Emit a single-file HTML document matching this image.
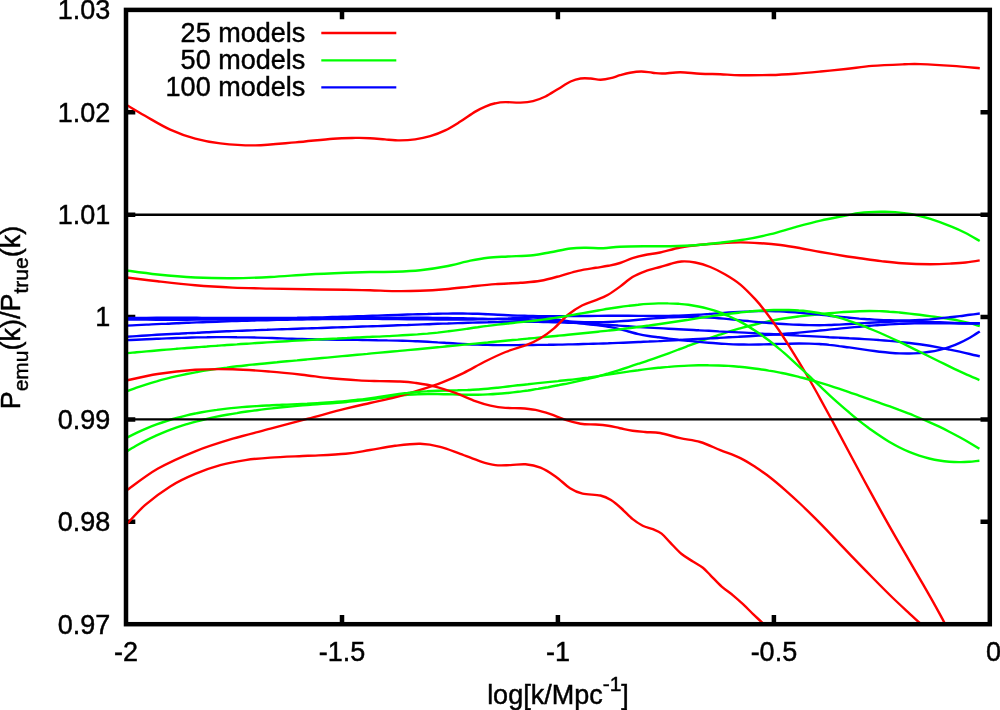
<!DOCTYPE html>
<html lang="en"><head><meta charset="utf-8"><title>Pemu(k)/Ptrue(k)</title>
<style>
html,body{margin:0;padding:0;background:#fff;}
body{width:1000px;height:710px;overflow:hidden;}
svg{display:block;}
text{font-family:"Liberation Sans",sans-serif;fill:#000;stroke:#000;stroke-width:0.45px;}
.c{fill:none;stroke-width:2.4;stroke-linecap:butt;stroke-linejoin:round;}
.r{stroke:#ff0000;}.g{stroke:#00ff00;}.b{stroke:#0000ff;}
.k{stroke:#000;fill:none;}
</style></head><body>
<svg width="1000" height="710" viewBox="0 0 1000 710">
<rect x="0" y="0" width="1000" height="710" fill="#fff"/>
<defs><clipPath id="pa"><rect x="126" y="9.9" width="863.8" height="614.3"/></clipPath></defs>
<path class="k" stroke-width="4.5" d="M342 624.2V614.9M342 9.9V19.2M557.9 624.2V614.9M557.9 9.9V19.2M773.9 624.2V614.9M773.9 9.9V19.2M126 521.8H135.3M989.8 521.8H980.5M126 419.4H135.3M989.8 419.4H980.5M126 317H135.3M989.8 317H980.5M126 214.7H135.3M989.8 214.7H980.5M126 112.3H135.3M989.8 112.3H980.5"/>
<g clip-path="url(#pa)">
<path class="c r" d="M126.5 277.5C131.7 278.1 146.2 280 157.6 281.3C169 282.6 182.7 284.2 195.2 285.3C207.7 286.4 220.2 287.1 232.8 287.6C245.4 288.2 258 288.3 270.5 288.6C283 288.9 295.5 289.1 308 289.3C320.5 289.5 335.4 289.6 345.7 289.8C356 290 361.8 290.1 370 290.3C378.2 290.5 386.6 291 395 291.1C403.4 291.2 411.8 291.1 420.2 290.8C428.6 290.5 436.8 290 445.2 289.3C453.6 288.6 461.9 287.5 470.3 286.6C478.7 285.7 487 284.7 495.4 284.1C503.8 283.5 513 283.4 520.5 282.8C528 282.2 533.8 282 540.5 280.8C547.2 279.6 554.3 277.5 560.6 275.8C566.9 274.1 572.2 272.1 578.1 270.8C584 269.5 590.7 268.6 595.7 267.8C600.7 267 604.2 266.6 608.2 265.8C612.2 265 616 264.3 620 263C624 261.7 628.3 259.5 632.5 258.2C636.7 256.9 640.4 255.9 645 255C649.6 254.1 654.2 253.8 660.1 252.5C666 251.2 673.5 248.8 680.2 247.5C686.9 246.2 693.5 245.4 700.2 244.7C706.9 244 713.6 243.6 720.3 243.2C727 242.8 733.7 242.4 740.4 242.4C747.1 242.4 753.7 242.8 760.4 243.2C767.1 243.6 773.8 244.2 780.5 245C787.2 245.8 793.8 247 800.5 248.2C807.2 249.4 813.1 250.7 820.6 252C828.1 253.3 839.1 255.1 845.7 256.2C852.3 257.2 854.1 257.5 860 258.3C865.9 259.1 874 260.3 881 261.1C888 261.9 894.1 262.7 902.3 263.2C910.5 263.7 922.2 264.1 930.4 264.2C938.6 264.2 945.6 263.8 951.5 263.5C957.4 263.2 960.9 263 965.6 262.5C970.3 262 977.4 260.8 979.7 260.4"/>
<path class="c g" d="M126.5 451.5C128.2 450.5 133.2 447.4 136.5 445.5C139.9 443.6 143.2 441.8 146.6 440.1C149.9 438.4 153.3 436.9 156.6 435.4C160 433.9 163.3 432.5 166.7 431.1C170 429.8 173.3 428.6 176.7 427.4C180 426.3 183.4 425.2 186.7 424.2C190.1 423.2 193.4 422.2 196.8 421.4C200.1 420.5 203.5 419.7 206.8 418.9C210.2 418.1 213.5 417.4 216.8 416.7C220.2 416 223.5 415.4 226.9 414.8C230.2 414.2 233.6 413.6 236.9 413.1C240.3 412.5 243.6 412 247 411.5C250.3 411.1 253.7 410.6 257 410.2C260.4 409.7 263.7 409.3 267 408.9C270.4 408.5 273.7 408.2 277.1 407.8C280.4 407.5 283.8 407.1 287.1 406.8C290.5 406.5 293.8 406.2 297.2 405.9C300.5 405.6 303.9 405.3 307.2 405.1C310.5 404.8 313.9 404.5 317.2 404.3C320.6 404 323.9 403.8 327.3 403.5C330.6 403.3 334 403 337.3 402.7C340.7 402.5 344 402.2 347.4 401.9C350.7 401.6 354 401.2 357.4 400.9C360.7 400.5 364.1 400.2 367.4 399.8C370.8 399.4 374.1 398.9 377.5 398.4C380.8 398 384.2 397.5 387.5 397C390.9 396.6 394.2 396.1 397.5 395.7C400.9 395.4 404.2 395 407.6 394.7C410.9 394.5 414.3 394.3 417.6 394.2C421 394 424.3 394 427.7 394C431 393.9 434.4 394 437.7 394C441 394.1 444.4 394.2 447.7 394.2C451.1 394.3 454.4 394.4 457.8 394.5C461.1 394.6 464.5 394.6 467.8 394.7C471.2 394.7 474.5 394.7 477.9 394.7C481.2 394.7 484.6 394.6 487.9 394.4C491.2 394.3 494.6 394.1 497.9 393.8C501.3 393.6 504.6 393.3 508 393C511.3 392.6 514.7 392.2 518 391.8C521.4 391.4 524.7 390.9 528.1 390.5C531.4 390 534.7 389.4 538.1 388.9C541.4 388.3 544.8 387.8 548.1 387.2C551.5 386.5 554.8 385.9 558.2 385.3C561.5 384.6 564.9 384 568.2 383.3C571.6 382.6 574.9 381.9 578.2 381.1C581.6 380.4 584.9 379.6 588.3 378.8C591.6 378 595 377.2 598.3 376.3C601.7 375.4 605 374.4 608.4 373.5C611.7 372.5 615.1 371.4 618.4 370.4C621.7 369.3 625.1 368.2 628.4 367.1C631.8 365.9 635.1 364.8 638.5 363.7C641.8 362.6 645.2 361.5 648.5 360.3C651.9 359.2 655.2 358.1 658.6 356.9C661.9 355.7 665.3 354.5 668.6 353.3C671.9 352.1 675.3 350.8 678.6 349.5C682 348.3 685.3 347 688.7 345.7C692 344.5 695.4 343.2 698.7 342C702.1 340.7 705.4 339.5 708.8 338.4C712.1 337.2 715.4 336 718.8 334.9C722.1 333.8 725.5 332.8 728.8 331.7C732.2 330.7 735.5 329.7 738.9 328.7C742.2 327.8 745.6 326.8 748.9 326C752.3 325.1 755.6 324.3 758.9 323.5C762.3 322.7 765.6 321.9 769 321.2C772.3 320.6 775.7 319.9 779 319.3C782.4 318.7 785.7 318.2 789.1 317.7C792.4 317.2 795.8 316.8 799.1 316.4C802.4 316 805.8 315.6 809.1 315.2C812.5 314.9 815.8 314.6 819.2 314.2C822.5 313.9 825.9 313.6 829.2 313.3C832.6 313 835.9 312.7 839.3 312.4C842.6 312.1 845.9 311.9 849.3 311.7C852.6 311.5 856 311.3 859.3 311.2C862.7 311.1 866 311 869.4 311C872.7 311 876.1 311 879.4 311.1C882.8 311.3 886.1 311.4 889.5 311.7C892.8 311.9 896.1 312.2 899.5 312.5C902.8 312.8 906.2 313.2 909.5 313.6C912.9 314 916.2 314.4 919.6 314.8C922.9 315.2 926.3 315.7 929.6 316.1C933 316.6 936.3 317 939.6 317.5C943 318 946.3 318.4 949.7 319C953 319.5 956.4 320.1 959.7 320.8C963.1 321.5 966.4 322.2 969.8 323.1C973.1 324 978.1 325.7 979.8 326.2"/>
<path class="c b" d="M126.5 318.1C128.2 318 133.2 318 136.5 317.9C139.9 317.9 143.2 317.9 146.6 317.9C149.9 317.8 153.3 317.8 156.6 317.8C160 317.8 163.3 317.8 166.7 317.8C170 317.8 173.3 317.8 176.7 317.8C180 317.8 183.4 317.8 186.7 317.8C190.1 317.8 193.4 317.8 196.8 317.8C200.1 317.8 203.5 317.9 206.8 317.9C210.2 317.9 213.5 317.9 216.8 317.9C220.2 317.9 223.5 317.9 226.9 317.9C230.2 318 233.6 318 236.9 318C240.3 318 243.6 318 247 318C250.3 318 253.7 318 257 318C260.4 318 263.7 318 267 318C270.4 318 273.7 318 277.1 318C280.4 317.9 283.8 317.9 287.1 317.9C290.5 317.9 293.8 317.8 297.2 317.8C300.5 317.7 303.9 317.7 307.2 317.6C310.5 317.6 313.9 317.5 317.2 317.5C320.6 317.4 323.9 317.3 327.3 317.2C330.6 317.1 334 317 337.3 316.9C340.7 316.8 344 316.7 347.4 316.6C350.7 316.5 354 316.4 357.4 316.3C360.7 316.2 364.1 316.1 367.4 315.9C370.8 315.8 374.1 315.7 377.5 315.6C380.8 315.5 384.2 315.3 387.5 315.2C390.9 315.1 394.2 315 397.5 314.9C400.9 314.8 404.2 314.6 407.6 314.5C410.9 314.4 414.3 314.3 417.6 314.2C421 314.1 424.3 314 427.7 314C431 313.9 434.4 313.8 437.7 313.7C441 313.7 444.4 313.6 447.7 313.6C451.1 313.6 454.4 313.5 457.8 313.5C461.1 313.5 464.5 313.6 467.8 313.6C471.2 313.7 474.5 313.7 477.9 313.8C481.2 313.9 484.6 314.1 487.9 314.2C491.2 314.4 494.6 314.6 497.9 314.7C501.3 314.9 504.6 315.1 508 315.2C511.3 315.4 514.7 315.5 518 315.6C521.4 315.8 524.7 315.8 528.1 315.9C531.4 316 534.7 316 538.1 316.1C541.4 316.1 544.8 316.1 548.1 316.2C551.5 316.2 554.8 316.2 558.2 316.2C561.5 316.2 564.9 316.1 568.2 316.1C571.6 316.1 574.9 316.1 578.2 316C581.6 316 584.9 316 588.3 316C591.6 315.9 595 315.9 598.3 315.9C601.7 315.8 605 315.8 608.4 315.8C611.7 315.8 615.1 315.8 618.4 315.8C621.7 315.8 625.1 315.8 628.4 315.8C631.8 315.8 635.1 315.8 638.5 315.9C641.8 315.9 645.2 315.9 648.5 315.9C651.9 316 655.2 316 658.6 316C661.9 315.9 665.3 315.9 668.6 315.9C671.9 315.8 675.3 315.8 678.6 315.7C682 315.5 685.3 315.4 688.7 315.2C692 315.1 695.4 314.9 698.7 314.7C702.1 314.5 705.4 314.2 708.8 314C712.1 313.7 715.4 313.5 718.8 313.2C722.1 313 725.5 312.7 728.8 312.5C732.2 312.3 735.5 312.1 738.9 311.9C742.2 311.7 745.6 311.5 748.9 311.4C752.3 311.2 755.6 311.1 758.9 311.1C762.3 311 765.6 311 769 311.1C772.3 311.1 775.7 311.3 779 311.4C782.4 311.5 785.7 311.7 789.1 312C792.4 312.2 795.8 312.4 799.1 312.7C802.4 313 805.8 313.3 809.1 313.6C812.5 313.9 815.8 314.3 819.2 314.6C822.5 315 825.9 315.3 829.2 315.7C832.6 316 835.9 316.4 839.3 316.7C842.6 317 845.9 317.4 849.3 317.7C852.6 318 856 318.3 859.3 318.6C862.7 318.8 866 319.1 869.4 319.3C872.7 319.5 876.1 319.7 879.4 319.9C882.8 320.1 886.1 320.2 889.5 320.3C892.8 320.4 896.1 320.5 899.5 320.5C902.8 320.5 906.2 320.5 909.5 320.4C912.9 320.3 916.2 320.2 919.6 320C922.9 319.9 926.3 319.6 929.6 319.4C933 319.1 936.3 318.8 939.6 318.4C943 318.1 946.3 317.7 949.7 317.3C953 316.9 956.4 316.5 959.7 316.1C963.1 315.7 966.4 315.2 969.8 314.8C973.1 314.4 978.1 313.7 979.8 313.5"/>
<path class="c b" d="M126.5 319.5C128.2 319.5 133.2 319.5 136.5 319.6C139.9 319.6 143.2 319.6 146.6 319.6C149.9 319.7 153.3 319.7 156.6 319.7C160 319.7 163.3 319.7 166.7 319.7C170 319.7 173.3 319.7 176.7 319.7C180 319.7 183.4 319.7 186.7 319.7C190.1 319.7 193.4 319.7 196.8 319.6C200.1 319.6 203.5 319.6 206.8 319.6C210.2 319.5 213.5 319.5 216.8 319.5C220.2 319.5 223.5 319.4 226.9 319.4C230.2 319.4 233.6 319.3 236.9 319.3C240.3 319.2 243.6 319.2 247 319.2C250.3 319.1 253.7 319.1 257 319C260.4 319 263.7 318.9 267 318.9C270.4 318.9 273.7 318.8 277.1 318.8C280.4 318.7 283.8 318.7 287.1 318.6C290.5 318.6 293.8 318.5 297.2 318.5C300.5 318.4 303.9 318.4 307.2 318.4C310.5 318.3 313.9 318.3 317.2 318.2C320.6 318.2 323.9 318.2 327.3 318.1C330.6 318.1 334 318 337.3 318C340.7 318 344 317.9 347.4 317.9C350.7 317.9 354 317.8 357.4 317.8C360.7 317.8 364.1 317.8 367.4 317.7C370.8 317.7 374.1 317.7 377.5 317.7C380.8 317.7 384.2 317.7 387.5 317.7C390.9 317.7 394.2 317.7 397.5 317.7C400.9 317.7 404.2 317.7 407.6 317.7C410.9 317.7 414.3 317.7 417.6 317.7C421 317.7 424.3 317.8 427.7 317.8C431 317.8 434.4 317.9 437.7 317.9C441 317.9 444.4 318 447.7 318C451.1 318.1 454.4 318.1 457.8 318.2C461.1 318.3 464.5 318.3 467.8 318.4C471.2 318.5 474.5 318.5 477.9 318.6C481.2 318.7 484.6 318.8 487.9 318.9C491.2 319 494.6 319.1 497.9 319.1C501.3 319.2 504.6 319.3 508 319.4C511.3 319.6 514.7 319.7 518 319.8C521.4 319.9 524.7 320 528.1 320.1C531.4 320.2 534.7 320.3 538.1 320.5C541.4 320.6 544.8 320.7 548.1 320.8C551.5 321 554.8 321.1 558.2 321.2C561.5 321.3 564.9 321.5 568.2 321.6C571.6 321.7 574.9 321.9 578.2 322C581.6 322.1 584.9 322.2 588.3 322.2C591.6 322.3 595 322.3 598.3 322.3C601.7 322.2 605 322.1 608.4 322C611.7 321.9 615.1 321.7 618.4 321.4C621.7 321.2 625.1 320.9 628.4 320.7C631.8 320.4 635.1 320.1 638.5 319.8C641.8 319.5 645.2 319.1 648.5 318.8C651.9 318.5 655.2 318.3 658.6 318C661.9 317.8 665.3 317.6 668.6 317.4C671.9 317.3 675.3 317.1 678.6 317.1C682 317 685.3 316.9 688.7 316.9C692 316.9 695.4 317 698.7 317.1C702.1 317.1 705.4 317.3 708.8 317.5C712.1 317.7 715.4 317.9 718.8 318.2C722.1 318.5 725.5 318.8 728.8 319.1C732.2 319.5 735.5 319.8 738.9 320.1C742.2 320.5 745.6 320.8 748.9 321.1C752.3 321.5 755.6 321.8 758.9 322.1C762.3 322.4 765.6 322.7 769 323C772.3 323.2 775.7 323.5 779 323.7C782.4 324 785.7 324.2 789.1 324.4C792.4 324.6 795.8 324.7 799.1 324.8C802.4 325 805.8 325.1 809.1 325.1C812.5 325.2 815.8 325.2 819.2 325.2C822.5 325.1 825.9 325.1 829.2 325C832.6 324.9 835.9 324.7 839.3 324.6C842.6 324.4 845.9 324.2 849.3 324C852.6 323.8 856 323.6 859.3 323.4C862.7 323.2 866 323 869.4 322.8C872.7 322.6 876.1 322.4 879.4 322.2C882.8 322 886.1 321.8 889.5 321.7C892.8 321.6 896.1 321.5 899.5 321.4C902.8 321.4 906.2 321.3 909.5 321.4C912.9 321.4 916.2 321.5 919.6 321.5C922.9 321.6 926.3 321.8 929.6 321.9C933 322 936.3 322.2 939.6 322.3C943 322.4 946.3 322.6 949.7 322.7C953 322.8 956.4 323 959.7 323.1C963.1 323.2 966.4 323.2 969.8 323.3C973.1 323.3 978.1 323.2 979.8 323.2"/>
<path class="c b" d="M126.5 325.6C128.2 325.5 133.2 325.2 136.5 325.1C139.9 324.9 143.2 324.8 146.6 324.6C149.9 324.4 153.3 324.3 156.6 324.1C160 324 163.3 323.8 166.7 323.7C170 323.5 173.3 323.4 176.7 323.2C180 323.1 183.4 322.9 186.7 322.8C190.1 322.7 193.4 322.5 196.8 322.4C200.1 322.3 203.5 322.2 206.8 322C210.2 321.9 213.5 321.8 216.8 321.7C220.2 321.5 223.5 321.4 226.9 321.3C230.2 321.2 233.6 321.1 236.9 321C240.3 320.9 243.6 320.8 247 320.7C250.3 320.6 253.7 320.5 257 320.4C260.4 320.3 263.7 320.2 267 320.2C270.4 320.1 273.7 320 277.1 319.9C280.4 319.8 283.8 319.8 287.1 319.7C290.5 319.6 293.8 319.6 297.2 319.5C300.5 319.5 303.9 319.4 307.2 319.4C310.5 319.3 313.9 319.3 317.2 319.2C320.6 319.2 323.9 319.1 327.3 319.1C330.6 319.1 334 319 337.3 319C340.7 319 344 319 347.4 319C350.7 318.9 354 318.9 357.4 318.9C360.7 318.9 364.1 318.9 367.4 318.9C370.8 318.9 374.1 318.9 377.5 318.9C380.8 318.9 384.2 319 387.5 319C390.9 319 394.2 319 397.5 319.1C400.9 319.1 404.2 319.1 407.6 319.2C410.9 319.2 414.3 319.3 417.6 319.3C421 319.3 424.3 319.4 427.7 319.4C431 319.5 434.4 319.5 437.7 319.5C441 319.6 444.4 319.6 447.7 319.6C451.1 319.6 454.4 319.6 457.8 319.6C461.1 319.6 464.5 319.6 467.8 319.6C471.2 319.5 474.5 319.5 477.9 319.4C481.2 319.4 484.6 319.3 487.9 319.2C491.2 319.1 494.6 319 497.9 318.8C501.3 318.7 504.6 318.6 508 318.5C511.3 318.3 514.7 318.2 518 318C521.4 317.9 524.7 317.7 528.1 317.7C531.4 317.6 534.7 317.6 538.1 317.7C541.4 317.8 544.8 318.1 548.1 318.4C551.5 318.7 554.8 319.2 558.2 319.7C561.5 320.2 564.9 320.8 568.2 321.3C571.6 321.9 574.9 322.5 578.2 323C581.6 323.4 584.9 323.9 588.3 324.3C591.6 324.7 595 325 598.3 325.4C601.7 325.9 605 326.2 608.4 326.8C611.7 327.4 615.1 328 618.4 328.8C621.7 329.6 625.1 330.6 628.4 331.5C631.8 332.4 635.1 333.4 638.5 334.1C641.8 334.9 645.2 335.5 648.5 336C651.9 336.6 655.2 336.9 658.6 337.3C661.9 337.8 665.3 338.2 668.6 338.6C671.9 339 675.3 339.4 678.6 339.8C682 340.1 685.3 340.5 688.7 340.9C692 341.2 695.4 341.6 698.7 341.9C702.1 342.2 705.4 342.5 708.8 342.8C712.1 343.1 715.4 343.3 718.8 343.5C722.1 343.8 725.5 343.9 728.8 344.1C732.2 344.3 735.5 344.4 738.9 344.5C742.2 344.5 745.6 344.6 748.9 344.6C752.3 344.6 755.6 344.6 758.9 344.5C762.3 344.4 765.6 344.3 769 344.2C772.3 344.2 775.7 344 779 343.9C782.4 343.8 785.7 343.7 789.1 343.7C792.4 343.6 795.8 343.5 799.1 343.5C802.4 343.5 805.8 343.5 809.1 343.6C812.5 343.7 815.8 343.8 819.2 344C822.5 344.3 825.9 344.5 829.2 344.9C832.6 345.2 835.9 345.6 839.3 346.1C842.6 346.5 845.9 347 849.3 347.4C852.6 347.9 856 348.4 859.3 348.9C862.7 349.4 866 349.9 869.4 350.4C872.7 350.8 876.1 351.3 879.4 351.7C882.8 352.1 886.1 352.5 889.5 352.7C892.8 353 896.1 353.3 899.5 353.4C902.8 353.5 906.2 353.6 909.5 353.5C912.9 353.5 916.2 353.3 919.6 353.1C922.9 352.8 926.3 352.4 929.6 351.8C933 351.3 936.3 350.6 939.6 349.8C943 348.9 946.3 348 949.7 346.8C953 345.6 956.4 344.3 959.7 342.8C963.1 341.3 966.4 339.6 969.8 337.7C973.1 335.8 978.1 332.5 979.8 331.4"/>
<path class="c b" d="M126.5 336.8C128.2 336.7 133.2 336.3 136.5 336.1C139.9 335.9 143.2 335.7 146.6 335.5C149.9 335.3 153.3 335 156.6 334.8C160 334.6 163.3 334.5 166.7 334.3C170 334.1 173.3 333.9 176.7 333.7C180 333.5 183.4 333.4 186.7 333.2C190.1 333 193.4 332.8 196.8 332.7C200.1 332.5 203.5 332.4 206.8 332.2C210.2 332.1 213.5 331.9 216.8 331.8C220.2 331.6 223.5 331.5 226.9 331.3C230.2 331.2 233.6 331 236.9 330.9C240.3 330.8 243.6 330.6 247 330.5C250.3 330.4 253.7 330.3 257 330.1C260.4 330 263.7 329.9 267 329.8C270.4 329.6 273.7 329.5 277.1 329.4C280.4 329.3 283.8 329.2 287.1 329.1C290.5 328.9 293.8 328.8 297.2 328.7C300.5 328.6 303.9 328.5 307.2 328.4C310.5 328.3 313.9 328.2 317.2 328.1C320.6 327.9 323.9 327.8 327.3 327.7C330.6 327.6 334 327.5 337.3 327.4C340.7 327.3 344 327.2 347.4 327.1C350.7 327 354 326.8 357.4 326.7C360.7 326.6 364.1 326.5 367.4 326.4C370.8 326.3 374.1 326.2 377.5 326.1C380.8 325.9 384.2 325.8 387.5 325.7C390.9 325.6 394.2 325.5 397.5 325.3C400.9 325.2 404.2 325.1 407.6 325C410.9 324.8 414.3 324.7 417.6 324.6C421 324.5 424.3 324.3 427.7 324.2C431 324.1 434.4 323.9 437.7 323.8C441 323.7 444.4 323.6 447.7 323.5C451.1 323.3 454.4 323.2 457.8 323.1C461.1 323 464.5 322.9 467.8 322.8C471.2 322.7 474.5 322.6 477.9 322.5C481.2 322.4 484.6 322.3 487.9 322.3C491.2 322.2 494.6 322.1 497.9 322.1C501.3 322 504.6 322 508 321.9C511.3 321.9 514.7 321.9 518 321.9C521.4 321.9 524.7 321.9 528.1 321.9C531.4 321.9 534.7 321.9 538.1 321.9C541.4 322 544.8 322 548.1 322.1C551.5 322.2 554.8 322.2 558.2 322.3C561.5 322.4 564.9 322.5 568.2 322.7C571.6 322.8 574.9 323 578.2 323.1C581.6 323.3 584.9 323.5 588.3 323.7C591.6 323.9 595 324.1 598.3 324.3C601.7 324.5 605 324.7 608.4 324.9C611.7 325.2 615.1 325.4 618.4 325.6C621.7 325.9 625.1 326.1 628.4 326.3C631.8 326.5 635.1 326.8 638.5 327C641.8 327.2 645.2 327.4 648.5 327.6C651.9 327.8 655.2 327.9 658.6 328.1C661.9 328.3 665.3 328.5 668.6 328.7C671.9 328.9 675.3 329.1 678.6 329.2C682 329.4 685.3 329.6 688.7 329.8C692 330 695.4 330.1 698.7 330.3C702.1 330.5 705.4 330.7 708.8 330.8C712.1 331 715.4 331.2 718.8 331.4C722.1 331.5 725.5 331.7 728.8 331.9C732.2 332.1 735.5 332.2 738.9 332.4C742.2 332.6 745.6 332.8 748.9 332.9C752.3 333.1 755.6 333.3 758.9 333.5C762.3 333.6 765.6 333.8 769 334C772.3 334.2 775.7 334.3 779 334.5C782.4 334.7 785.7 334.9 789.1 335C792.4 335.2 795.8 335.4 799.1 335.6C802.4 335.7 805.8 335.9 809.1 336.1C812.5 336.3 815.8 336.4 819.2 336.6C822.5 336.8 825.9 337 829.2 337.2C832.6 337.3 835.9 337.5 839.3 337.7C842.6 337.9 845.9 338.1 849.3 338.3C852.6 338.4 856 338.6 859.3 338.8C862.7 339 866 339.2 869.4 339.4C872.7 339.7 876.1 339.9 879.4 340.1C882.8 340.4 886.1 340.6 889.5 340.9C892.8 341.2 896.1 341.5 899.5 341.9C902.8 342.2 906.2 342.6 909.5 343C912.9 343.4 916.2 343.8 919.6 344.3C922.9 344.8 926.3 345.3 929.6 345.8C933 346.4 936.3 347 939.6 347.6C943 348.2 946.3 348.9 949.7 349.6C953 350.3 956.4 351 959.7 351.7C963.1 352.5 966.4 353.2 969.8 354C973.1 354.8 978.1 356 979.8 356.3"/>
<path class="c b" d="M126.5 340.1C128.2 340 133.2 339.8 136.5 339.7C139.9 339.5 143.2 339.4 146.6 339.2C149.9 339.1 153.3 339 156.6 338.8C160 338.7 163.3 338.5 166.7 338.4C170 338.3 173.3 338.1 176.7 338C180 337.9 183.4 337.8 186.7 337.7C190.1 337.6 193.4 337.5 196.8 337.4C200.1 337.3 203.5 337.2 206.8 337.2C210.2 337.1 213.5 337.1 216.8 337.1C220.2 337.1 223.5 337.1 226.9 337.1C230.2 337.1 233.6 337.1 236.9 337.2C240.3 337.2 243.6 337.3 247 337.4C250.3 337.4 253.7 337.5 257 337.6C260.4 337.7 263.7 337.8 267 337.9C270.4 338 273.7 338.1 277.1 338.2C280.4 338.3 283.8 338.5 287.1 338.6C290.5 338.7 293.8 338.8 297.2 338.9C300.5 339 303.9 339.1 307.2 339.2C310.5 339.3 313.9 339.3 317.2 339.4C320.6 339.5 323.9 339.5 327.3 339.6C330.6 339.7 334 339.7 337.3 339.7C340.7 339.8 344 339.8 347.4 339.8C350.7 339.9 354 339.9 357.4 339.9C360.7 340 364.1 340 367.4 340.1C370.8 340.1 374.1 340.1 377.5 340.2C380.8 340.2 384.2 340.3 387.5 340.4C390.9 340.4 394.2 340.5 397.5 340.6C400.9 340.7 404.2 340.8 407.6 340.9C410.9 341 414.3 341.2 417.6 341.3C421 341.5 424.3 341.6 427.7 341.8C431 342 434.4 342.2 437.7 342.4C441 342.5 444.4 342.8 447.7 343C451.1 343.2 454.4 343.4 457.8 343.6C461.1 343.8 464.5 344 467.8 344.2C471.2 344.4 474.5 344.5 477.9 344.6C481.2 344.7 484.6 344.8 487.9 344.9C491.2 345 494.6 345 497.9 345.1C501.3 345.1 504.6 345.1 508 345.1C511.3 345.1 514.7 345.1 518 345.1C521.4 345.1 524.7 345 528.1 345C531.4 345 534.7 344.9 538.1 344.9C541.4 344.9 544.8 344.8 548.1 344.8C551.5 344.7 554.8 344.7 558.2 344.6C561.5 344.6 564.9 344.5 568.2 344.4C571.6 344.4 574.9 344.3 578.2 344.2C581.6 344.1 584.9 344 588.3 343.9C591.6 343.8 595 343.7 598.3 343.6C601.7 343.5 605 343.4 608.4 343.3C611.7 343.1 615.1 343 618.4 342.9C621.7 342.8 625.1 342.6 628.4 342.5C631.8 342.3 635.1 342.2 638.5 342C641.8 341.9 645.2 341.7 648.5 341.6C651.9 341.4 655.2 341.2 658.6 341.1C661.9 340.9 665.3 340.8 668.6 340.6C671.9 340.4 675.3 340.2 678.6 340.1C682 339.9 685.3 339.7 688.7 339.5C692 339.4 695.4 339.2 698.7 339C702.1 338.8 705.4 338.6 708.8 338.4C712.1 338.3 715.4 338.1 718.8 337.9C722.1 337.7 725.5 337.5 728.8 337.3C732.2 337.2 735.5 337 738.9 336.8C742.2 336.6 745.6 336.4 748.9 336.2C752.3 336 755.6 335.8 758.9 335.6C762.3 335.4 765.6 335.2 769 334.9C772.3 334.7 775.7 334.5 779 334.2C782.4 334 785.7 333.7 789.1 333.4C792.4 333.2 795.8 332.9 799.1 332.6C802.4 332.3 805.8 331.9 809.1 331.6C812.5 331.3 815.8 331 819.2 330.6C822.5 330.3 825.9 330 829.2 329.6C832.6 329.3 835.9 328.9 839.3 328.6C842.6 328.3 845.9 327.9 849.3 327.6C852.6 327.3 856 327 859.3 326.7C862.7 326.4 866 326.1 869.4 325.8C872.7 325.5 876.1 325.3 879.4 325C882.8 324.8 886.1 324.6 889.5 324.4C892.8 324.2 896.1 324 899.5 323.9C902.8 323.7 906.2 323.6 909.5 323.5C912.9 323.4 916.2 323.4 919.6 323.3C922.9 323.3 926.3 323.3 929.6 323.3C933 323.3 936.3 323.3 939.6 323.3C943 323.3 946.3 323.3 949.7 323.4C953 323.4 956.4 323.4 959.7 323.5C963.1 323.5 966.4 323.5 969.8 323.5C973.1 323.5 978.1 323.5 979.8 323.5"/>
<path class="c g" d="M126.5 270.5C131.7 271.2 146.2 273.3 157.6 274.5C169 275.7 182.7 276.9 195.2 277.5C207.7 278.1 220.2 278.4 232.8 278.3C245.4 278.2 258 277.6 270.5 277C283 276.4 295.5 275.2 308 274.5C320.5 273.8 335.4 273.2 345.7 272.8C356 272.4 361.8 272.2 370 272C378.2 271.8 386.6 272.1 395 271.8C403.4 271.5 411.8 271.2 420.2 270.3C428.6 269.4 436.8 268.1 445.2 266.5C453.6 264.9 463.2 262.2 470.3 260.7C477.4 259.2 481.6 258.4 487.9 257.7C494.2 257 500.4 256.9 507.9 256.5C515.4 256.1 525.9 255.9 533 255.2C540.1 254.5 544.2 253.3 550.5 252.2C556.8 251.1 564.8 249.2 570.6 248.5C576.5 247.8 580.2 247.8 585.6 247.7C591 247.6 597.5 248.4 603.2 248.2C608.9 248 613 247 620 246.7C627 246.4 636.6 246.3 645 246.2C653.4 246.1 661.8 246.4 670.2 246.2C678.6 246 686.9 245.8 695.2 245.2C703.6 244.6 711.9 243.7 720.3 242.7C728.7 241.7 737 240.8 745.4 239.4C753.8 238 762.1 236.2 770.5 234.2C778.9 232.1 787.1 229.4 795.5 227.1C803.9 224.8 812.2 222.5 820.6 220.6C829 218.7 839.1 216.9 845.7 215.6C852.3 214.3 854.1 213.6 860 213C865.9 212.4 875.1 212 881 211.8C886.9 211.7 890 211.7 895.2 212.1C900.4 212.5 906.1 213.1 912 214.2C917.9 215.3 923.8 216.8 930.4 218.9C937 221 945.6 224.2 951.5 226.6C957.4 228.9 960.9 230.6 965.6 233C970.3 235.4 977.4 239.7 979.7 241"/>
<path class="c g" d="M126.5 391.5C128.2 390.9 133.2 388.9 136.5 387.7C139.9 386.5 143.2 385.4 146.6 384.3C149.9 383.2 153.3 382.2 156.6 381.3C159.9 380.3 163.3 379.4 166.6 378.6C170 377.7 173.3 376.9 176.7 376.1C180 375.4 183.4 374.7 186.7 374C190 373.3 193.4 372.7 196.7 372.1C200.1 371.5 203.4 370.9 206.8 370.4C210.1 369.9 213.5 369.4 216.8 368.9C220.2 368.4 223.5 368 226.8 367.6C230.2 367.1 233.5 366.7 236.9 366.3C240.2 366 243.6 365.6 246.9 365.2C250.3 364.9 253.6 364.5 256.9 364.2C260.3 363.9 263.6 363.5 267 363.2C270.3 362.9 273.7 362.6 277 362.3C280.4 361.9 283.7 361.6 287 361.3C290.4 361 293.7 360.7 297.1 360.4C300.4 360 303.8 359.7 307.1 359.4C310.5 359.1 313.8 358.8 317.1 358.5C320.5 358.2 323.8 357.9 327.2 357.6C330.5 357.3 333.9 356.9 337.2 356.6C340.6 356.3 343.9 356 347.3 355.7C350.6 355.4 353.9 355.1 357.3 354.8C360.6 354.5 364 354.2 367.3 353.9C370.7 353.5 374 353.2 377.4 352.9C380.7 352.6 384 352.3 387.4 352C390.7 351.7 394.1 351.4 397.4 351.1C400.8 350.8 404.1 350.4 407.5 350.1C410.8 349.8 414.1 349.5 417.5 349.2C420.8 348.9 424.2 348.5 427.5 348.2C430.9 347.9 434.2 347.6 437.6 347.3C440.9 347 444.2 346.6 447.6 346.3C450.9 346 454.3 345.7 457.6 345.4C461 345 464.3 344.7 467.7 344.4C471 344.1 474.3 343.7 477.7 343.4C481 343.1 484.4 342.8 487.7 342.5C491.1 342.1 494.4 341.8 497.8 341.5C501.1 341.2 504.5 340.8 507.8 340.5C511.1 340.2 514.5 339.9 517.8 339.6C521.2 339.2 524.5 338.9 527.9 338.6C531.2 338.3 534.6 338 537.9 337.6C541.2 337.3 544.6 337 547.9 336.7C551.3 336.4 554.6 336 558 335.7C561.3 335.4 564.7 335.1 568 334.7C571.3 334.4 574.7 334.1 578 333.8C581.4 333.4 584.7 333.1 588.1 332.7C591.4 332.4 594.8 332 598.1 331.7C601.4 331.3 604.8 331 608.1 330.6C611.5 330.2 614.8 329.8 618.2 329.5C621.5 329.1 624.9 328.7 628.2 328.3C631.6 327.8 634.9 327.4 638.2 327C641.6 326.6 644.9 326.1 648.3 325.6C651.6 325.2 655 324.7 658.3 324.2C661.7 323.7 665 323.2 668.3 322.7C671.7 322.2 675 321.7 678.4 321.2C681.7 320.7 685.1 320.2 688.4 319.7C691.8 319.1 695.1 318.6 698.4 318.1C701.8 317.6 705.1 317.1 708.5 316.6C711.8 316.1 715.2 315.7 718.5 315.2C721.9 314.8 725.2 314.3 728.5 313.9C731.9 313.5 735.2 313.1 738.6 312.7C741.9 312.3 745.3 312 748.6 311.6C752 311.3 755.3 311 758.6 310.8C762 310.6 765.3 310.4 768.7 310.2C772 310.1 775.4 310 778.7 309.9C782.1 309.9 785.4 309.9 788.8 310C792.1 310.1 795.4 310.2 798.8 310.5C802.1 310.7 805.5 311.1 808.8 311.5C812.2 311.9 815.5 312.4 818.9 313C822.2 313.6 825.5 314.3 828.9 315C832.2 315.8 835.6 316.7 838.9 317.7C842.3 318.6 845.6 319.7 849 320.8C852.3 321.9 855.6 323.1 859 324.3C862.3 325.6 865.7 326.9 869 328.3C872.4 329.6 875.7 331 879.1 332.5C882.4 334 885.7 335.5 889.1 337C892.4 338.5 895.8 340.1 899.1 341.7C902.5 343.3 905.8 344.9 909.2 346.6C912.5 348.2 915.9 349.9 919.2 351.5C922.5 353.2 925.9 354.9 929.2 356.5C932.6 358.2 935.9 359.9 939.3 361.5C942.6 363.1 946 364.8 949.3 366.4C952.6 368 956 369.6 959.3 371.2C962.7 372.7 966 374.3 969.4 375.7C972.7 377.2 977.7 379.4 979.4 380.1"/>
<path class="c r" d="M126.5 490.5C131.7 486.9 146.2 475.3 157.6 468.8C169 462.3 182.7 456.3 195.2 451.3C207.7 446.3 220.2 442.5 232.8 438.7C245.4 434.9 258 432 270.5 428.7C283 425.4 295.5 422 308 418.7C320.5 415.4 335.4 411.3 345.7 408.7C356 406.1 361.8 404.9 370 403C378.2 401.1 386.6 399.6 395 397.4C403.4 395.2 412.3 392.4 420.2 389.9C428.1 387.4 435.1 385.1 442.3 382.3C449.5 379.5 456.4 376.5 463.4 373.1C470.4 369.7 477.5 365.3 484.5 361.8C491.5 358.3 498.6 354.8 505.6 352C512.6 349.2 521.1 347.1 526.8 344.9C532.5 342.7 535.5 341.4 540 338.6C544.5 335.8 549.3 332.3 554 328.3C558.7 324.3 563.3 318.6 568 314.8C572.7 311 577.3 307.9 582 305.5C586.7 303.1 591.7 301.9 596 300.2C600.3 298.4 603.6 297.3 607.6 295C611.6 292.7 615.9 289.6 620 286.6C624.1 283.6 628.3 279.6 632.5 277C636.7 274.4 640.4 273 645 271.3C649.6 269.6 655.9 268.2 660.1 267C664.3 265.8 666.7 264.9 670.2 264C673.8 263.1 677.2 261.8 681.4 261.5C685.6 261.2 690.4 261.6 695.2 262.5C700 263.4 705.3 265 710.3 267C715.3 269 720.3 271.6 725.3 274.5C730.3 277.4 735.4 280.5 740.4 284.6C745.4 288.8 751.2 294.9 755.4 299.4C759.6 303.9 761.5 306.4 765.4 311.5C769.3 316.6 774 323.1 778.6 329.8C783.2 336.5 788 344.3 792.7 351.8C797.4 359.3 802.2 367.2 806.8 375C811.3 382.8 815.3 389.8 820 398.3C824.7 406.8 830 416.6 835 425.9C840 435.2 845 444.6 850 454C855 463.4 860 472.8 865 482C870 491.2 874.2 498.9 880 509.4C885.8 519.9 893.3 533.1 900 544.7C906.7 556.3 914.2 569 920 579.1C925.8 589.2 931 598.2 935 605.4C939 612.6 941.5 617.1 944.3 622.5C947.1 627.9 950.7 635.1 952 637.6"/>
<path class="c g" d="M126.5 353.2C128.2 353 133.2 352.6 136.5 352.3C139.9 352 143.2 351.7 146.6 351.4C149.9 351.1 153.3 350.8 156.6 350.5C159.9 350.2 163.3 349.9 166.6 349.6C170 349.4 173.3 349.1 176.7 348.8C180 348.5 183.4 348.3 186.7 348C190 347.8 193.4 347.5 196.7 347.2C200.1 347 203.4 346.7 206.8 346.5C210.1 346.2 213.5 346 216.8 345.8C220.2 345.5 223.5 345.3 226.8 345C230.2 344.8 233.5 344.6 236.9 344.4C240.2 344.1 243.6 343.9 246.9 343.7C250.3 343.5 253.6 343.2 256.9 343C260.3 342.8 263.6 342.6 267 342.4C270.3 342.2 273.7 342 277 341.8C280.4 341.6 283.7 341.4 287 341.2C290.4 341 293.7 340.8 297.1 340.6C300.4 340.4 303.8 340.2 307.1 340.1C310.5 339.9 313.8 339.7 317.1 339.5C320.5 339.3 323.8 339.2 327.2 339C330.5 338.8 333.9 338.6 337.2 338.5C340.6 338.3 343.9 338.1 347.3 338C350.6 337.8 353.9 337.7 357.3 337.5C360.6 337.3 364 337.2 367.3 337C370.7 336.9 374 336.7 377.4 336.6C380.7 336.4 384 336.3 387.4 336.1C390.7 335.9 394.1 335.8 397.4 335.6C400.8 335.4 404.1 335.2 407.5 335C410.8 334.8 414.1 334.6 417.5 334.4C420.8 334.1 424.2 333.8 427.5 333.6C430.9 333.3 434.2 332.9 437.6 332.6C440.9 332.2 444.2 331.8 447.6 331.4C450.9 331 454.3 330.6 457.6 330.1C461 329.7 464.3 329.2 467.7 328.7C471 328.2 474.3 327.7 477.7 327.3C481 326.8 484.4 326.3 487.7 325.9C491.1 325.4 494.4 325 497.8 324.6C501.1 324.2 504.5 323.8 507.8 323.5C511.1 323.1 514.5 322.8 517.8 322.4C521.2 322.1 524.5 321.8 527.9 321.4C531.2 321.1 534.6 320.7 537.9 320.3C541.2 319.9 544.6 319.4 547.9 319C551.3 318.5 554.6 318 558 317.4C561.3 316.9 564.7 316.3 568 315.8C571.3 315.2 574.7 314.6 578 314C581.4 313.4 584.7 312.8 588.1 312.2C591.4 311.7 594.8 311.1 598.1 310.5C601.4 309.9 604.8 309.4 608.1 308.8C611.5 308.3 614.8 307.8 618.2 307.3C621.5 306.8 624.9 306.3 628.2 305.9C631.6 305.5 634.9 305.1 638.2 304.8C641.6 304.4 644.9 304.1 648.3 303.9C651.6 303.7 655 303.5 658.3 303.4C661.7 303.3 665 303.3 668.3 303.4C671.7 303.4 675 303.6 678.4 303.8C681.7 304.1 685.1 304.4 688.4 304.8C691.8 305.3 695.1 305.8 698.4 306.5C701.8 307.2 705.1 308 708.5 308.9C711.8 309.8 715.2 310.8 718.5 312C721.9 313.2 725.2 314.6 728.5 316C731.9 317.5 735.2 319.1 738.6 320.9C741.9 322.6 745.3 324.5 748.6 326.6C752 328.6 755.3 330.8 758.6 333.1C762 335.4 765.3 337.8 768.7 340.3C772 342.9 775.4 345.6 778.7 348.4C782.1 351.1 785.4 354.1 788.8 357.1C792.1 360.1 795.4 363.2 798.8 366.3C802.1 369.4 805.5 372.6 808.8 375.7C812.2 378.9 815.5 382.1 818.9 385.2C822.2 388.3 825.5 391.5 828.9 394.6C832.2 397.6 835.6 400.7 838.9 403.6C842.3 406.6 845.6 409.5 849 412.3C852.3 415.2 855.6 417.9 859 420.6C862.3 423.2 865.7 425.8 869 428.3C872.4 430.7 875.7 433.1 879.1 435.3C882.4 437.6 885.7 439.7 889.1 441.7C892.4 443.6 895.8 445.5 899.1 447.2C902.5 448.9 905.8 450.5 909.2 451.9C912.5 453.3 915.9 454.5 919.2 455.6C922.5 456.7 925.9 457.7 929.2 458.5C932.6 459.3 935.9 460 939.3 460.5C942.6 461.1 946 461.5 949.3 461.7C952.6 462 956 462.1 959.3 462.1C962.7 462.2 966 462 969.4 461.8C972.7 461.6 977.7 460.9 979.4 460.8"/>
<path class="c g" d="M126.5 437.9C128.2 437 133.2 434.4 136.5 432.8C139.9 431.2 143.2 429.7 146.6 428.3C149.9 426.9 153.3 425.6 156.6 424.4C159.9 423.2 163.3 422 166.6 421C170 419.9 173.3 418.9 176.7 418C180 417.1 183.4 416.2 186.7 415.4C190 414.6 193.4 413.9 196.7 413.2C200.1 412.6 203.4 412 206.8 411.4C210.1 410.8 213.5 410.3 216.8 409.9C220.2 409.4 223.5 409 226.8 408.6C230.2 408.2 233.5 407.9 236.9 407.6C240.2 407.3 243.6 407 246.9 406.7C250.3 406.5 253.6 406.3 256.9 406.1C260.3 405.9 263.6 405.7 267 405.5C270.3 405.3 273.7 405.2 277 405C280.4 404.9 283.7 404.7 287 404.6C290.4 404.4 293.7 404.3 297.1 404.1C300.4 404 303.8 403.8 307.1 403.7C310.5 403.5 313.8 403.3 317.1 403.1C320.5 403 323.8 402.7 327.2 402.5C330.5 402.3 333.9 402 337.2 401.8C340.6 401.5 343.9 401.2 347.3 400.9C350.6 400.6 353.9 400.2 357.3 399.8C360.6 399.5 364 399.1 367.3 398.6C370.7 398.2 374 397.7 377.4 397.2C380.7 396.7 384 396.2 387.4 395.7C390.7 395.2 394.1 394.7 397.4 394.2C400.8 393.8 404.1 393.3 407.5 393C410.8 392.6 414.1 392.3 417.5 392C420.8 391.7 424.2 391.5 427.5 391.3C430.9 391.1 434.2 391 437.6 390.8C440.9 390.7 444.2 390.6 447.6 390.5C450.9 390.4 454.3 390.3 457.6 390.3C461 390.2 464.3 390.1 467.7 390C471 389.8 474.3 389.7 477.7 389.5C481 389.3 484.4 389.1 487.7 388.8C491.1 388.5 494.4 388.1 497.8 387.7C501.1 387.3 504.5 386.9 507.8 386.5C511.1 386.1 514.5 385.7 517.8 385.3C521.2 384.9 524.5 384.5 527.9 384.2C531.2 383.8 534.6 383.4 537.9 383.1C541.2 382.8 544.6 382.4 547.9 382.1C551.3 381.8 554.6 381.4 558 381.1C561.3 380.7 564.7 380.4 568 380C571.3 379.7 574.7 379.3 578 378.9C581.4 378.5 584.7 378 588.1 377.6C591.4 377.1 594.8 376.6 598.1 376.1C601.4 375.6 604.8 375.1 608.1 374.6C611.5 374.1 614.8 373.6 618.2 373.1C621.5 372.6 624.9 372.1 628.2 371.6C631.6 371.1 634.9 370.6 638.2 370.2C641.6 369.7 644.9 369.3 648.3 368.9C651.6 368.5 655 368.1 658.3 367.8C661.7 367.5 665 367.1 668.3 366.9C671.7 366.6 675 366.3 678.4 366.1C681.7 365.9 685.1 365.7 688.4 365.6C691.8 365.5 695.1 365.4 698.4 365.3C701.8 365.3 705.1 365.2 708.5 365.3C711.8 365.3 715.2 365.4 718.5 365.5C721.9 365.6 725.2 365.7 728.5 365.9C731.9 366.2 735.2 366.4 738.6 366.7C741.9 367 745.3 367.3 748.6 367.7C752 368.1 755.3 368.5 758.6 369C762 369.5 765.3 370 768.7 370.6C772 371.1 775.4 371.7 778.7 372.4C782.1 373.1 785.4 373.7 788.8 374.5C792.1 375.2 795.4 376 798.8 376.8C802.1 377.7 805.5 378.5 808.8 379.5C812.2 380.4 815.5 381.3 818.9 382.3C822.2 383.3 825.5 384.4 828.9 385.4C832.2 386.5 835.6 387.6 838.9 388.7C842.3 389.8 845.6 391 849 392.1C852.3 393.3 855.6 394.4 859 395.6C862.3 396.8 865.7 398 869 399.2C872.4 400.4 875.7 401.5 879.1 402.7C882.4 403.9 885.7 405 889.1 406.2C892.4 407.4 895.8 408.6 899.1 409.9C902.5 411.1 905.8 412.4 909.2 413.7C912.5 415.1 915.9 416.4 919.2 417.8C922.5 419.2 925.9 420.6 929.2 422.1C932.6 423.6 935.9 425.1 939.3 426.7C942.6 428.3 946 430 949.3 431.7C952.6 433.4 956 435.2 959.3 437C962.7 438.8 966 440.7 969.4 442.7C972.7 444.7 977.7 447.8 979.4 448.8"/>
<path class="c r" d="M126.5 105C129.6 106.8 137.7 111.7 145 115.8C152.3 119.9 161.8 125.8 170.2 129.6C178.6 133.4 186.8 136.4 195.2 138.7C203.5 141 210.3 142.3 220.3 143.4C230.3 144.5 242.9 145.6 255.4 145.4C267.9 145.2 282.6 143.5 295.5 142.4C308.4 141.3 323.1 139.4 333.1 138.7C343.1 137.9 349.6 138 355.7 137.9C361.8 137.8 365.1 137.9 370 138.2C374.9 138.4 380 139 385 139.4C390 139.8 395 140.4 400 140.4C405 140.4 410.1 140.1 415.1 139.4C420.1 138.7 425.2 137.7 430.2 136.2C435.2 134.7 440.2 132.8 445.2 130.4C450.2 128 455.3 124.7 460.3 121.6C465.3 118.5 471.1 114.1 475.3 111.6C479.5 109.1 482 108 485.3 106.6C488.6 105.2 492 104 495.4 103.3C498.8 102.5 501.2 102.2 505.4 102.1C509.6 102 515.9 102.8 520.5 102.6C525.1 102.4 528.8 102.1 533 101.1C537.2 100.1 541.3 98.5 545.5 96.5C549.7 94.5 553.9 91.5 558.1 89C562.3 86.5 566.9 83.2 570.6 81.5C574.4 79.8 577.2 79 580.6 78.5C584 78 587.4 78.3 590.7 78.5C594.1 78.7 597.4 79.8 600.7 79.7C604 79.7 607.5 79 610.7 78.2C613.9 77.5 616.8 76.1 620 75.2C623.2 74.3 626.5 73.3 630 72.7C633.5 72.1 637.5 71.5 641.3 71.5C645.1 71.5 649 72.4 652.6 72.7C656.2 73 658 73.6 662.6 73.5C667.2 73.4 673.9 72.2 680.2 72.2C686.5 72.2 693.5 73.4 700.2 73.7C706.9 74 713.6 74 720.3 74.2C727 74.5 732 75.1 740.4 75.2C748.8 75.3 761.3 75.2 770.5 75C779.7 74.8 787.1 74.3 795.5 73.7C803.9 73.1 812.2 72.3 820.6 71.5C829 70.7 837.1 69.9 845.7 69C854.3 68.1 862.2 66.7 872 65.9C881.8 65.1 896.2 64.6 904.3 64.3C912.3 64 912.3 63.8 920.3 64.1C928.3 64.4 942.5 65.2 952.4 65.9C962.3 66.6 975.2 67.9 979.8 68.3"/>
<path class="c r" d="M126.5 380.5C131.7 379.4 146.2 375.8 157.6 374C169 372.2 182.7 370.6 195.2 369.8C207.7 369 220.2 369 232.8 369.3C245.4 369.6 259 370.7 270.5 371.6C282 372.5 292 373.6 302 374.7C312 375.8 321 377.4 330.4 378.3C339.8 379.2 350.3 379.9 358.6 380.4C366.9 380.9 373.1 380.9 380 381.1C386.9 381.3 394.1 381.2 400 381.5C405.9 381.8 409.2 382 415.1 382.9C421 383.8 428.5 384.9 435.2 386.6C441.9 388.3 448.6 390.5 455.3 392.9C462 395.3 469.5 399 475.3 401.1C481.1 403.2 485.4 404.5 490.4 405.6C495.4 406.7 500.4 407.5 505.4 407.9C510.4 408.3 515.5 407.9 520.5 408.2C525.5 408.5 530.5 408.9 535.5 409.9C540.5 410.9 545.5 412.5 550.5 414.2C555.5 415.9 560.6 418.3 565.6 419.9C570.6 421.5 575.6 422.9 580.6 423.7C585.6 424.5 591.1 424.2 595.7 424.5C600.3 424.8 604.2 425.1 608.2 425.7C612.2 426.3 616 427.4 620 428.2C624 429 628.3 430.1 632.5 430.7C636.7 431.3 640.4 431.6 645 432C649.6 432.4 654.2 432 660.1 433C666 434 673.5 436.7 680.2 438.2C686.9 439.7 693.5 440 700.2 442C706.9 444 713.6 447.4 720.3 450.1C727 452.8 734.5 455.3 740.4 458.1C746.2 460.9 750.4 463.8 755.4 467.1C760.4 470.4 765.5 473.8 770.5 477.7C775.5 481.6 780.5 485.9 785.5 490.3C790.5 494.7 795.6 499.4 800.5 504C805.4 508.6 809.6 512.8 815 518.2C820.4 523.6 826.4 529.8 832.7 536.3C839 542.8 846.1 550.4 852.8 557.4C859.5 564.4 866.2 571.2 872.9 578C879.6 584.8 887 592.3 892.9 598C898.8 603.7 903.8 608.2 908 612.1C912.2 616 914.3 618.1 918 621.4C921.7 624.7 928 630.2 930 632"/>
<path class="c r" d="M126.5 524.5C129.6 521.3 137.7 511.6 145 505.2C152.3 498.8 161.8 491.6 170.2 486.4C178.6 481.2 186.8 477.4 195.2 473.9C203.5 470.3 211.9 467.4 220.3 465.1C228.7 462.8 237 461.4 245.4 460.1C253.8 458.9 260.1 458.3 270.5 457.6C280.9 456.9 295.5 456.4 308 455.8C320.5 455.2 335.4 454.8 345.7 453.8C356 452.8 361.8 451.3 370 450C378.2 448.7 386.6 446.8 395 445.8C403.4 444.8 412.7 443.6 420.2 443.8C427.7 444 433.5 445.1 440.2 446.8C446.9 448.5 453.6 451.4 460.3 453.8C467 456.2 474.5 459.4 480.3 461.3C486.1 463.2 490.4 464.5 495.4 465.1C500.4 465.7 505.4 465.2 510.4 465.1C515.4 465 520.5 463.9 525.5 464.3C530.5 464.7 535.5 465.6 540.5 467.6C545.5 469.6 550.6 473 555.5 476.4C560.4 479.8 565.5 485.3 570 488.2C574.5 491.1 577.5 492.4 582.6 493.6C587.7 494.8 595.7 494.4 600.4 495.5C605.1 496.6 607.5 497.9 611 500.1C614.5 502.3 617.9 505.3 621.5 508.5C625.1 511.7 629.2 516.3 632.7 519.2C636.2 522.1 639.4 524 642.7 525.7C646.1 527.4 649.6 527.9 652.8 529.2C655.9 530.5 658.7 531.4 661.6 533.6C664.5 535.9 667 539.3 670.3 542.7C673.6 546.1 677.8 550.9 681.6 554C685.4 557.1 689.4 559.2 692.9 561.5C696.4 563.8 700 565.5 702.9 567.8C705.8 570.1 707.4 572.2 710.5 575.3C713.6 578.4 718 583.3 721.7 586.6C725.5 589.9 729.5 592.4 733 595.3C736.5 598.2 739.6 601 743 604.1C746.4 607.2 750 611.1 753.1 614.1C756.2 617.1 758.8 619.4 761.9 622.4C765 625.4 770.3 630.4 772 632"/>
<line class="k" stroke-width="2.4" x1="126" y1="214.7" x2="989.8" y2="214.7"/>
<line class="k" stroke-width="2.4" x1="126" y1="419.4" x2="989.8" y2="419.4"/>
</g>
<text x="305.2" y="41.6" font-size="27" text-anchor="end">25 models</text>
<line class="c r" x1="321.3" y1="33" x2="396.3" y2="33"/>
<text x="305.2" y="69.2" font-size="27" text-anchor="end">50 models</text>
<line class="c g" x1="321.3" y1="60.4" x2="396.3" y2="60.4"/>
<text x="305.2" y="96.4" font-size="27" text-anchor="end">100 models</text>
<line class="c b" x1="321.3" y1="87.4" x2="396.3" y2="87.4"/>
<rect class="k" stroke-width="4.5" x="126" y="9.9" width="863.8" height="614.3"/>
<text x="110.3" y="19.1" font-size="27" text-anchor="end">1.03</text>
<text x="110.3" y="121.5" font-size="27" text-anchor="end">1.02</text>
<text x="110.3" y="223.9" font-size="27" text-anchor="end">1.01</text>
<text x="110.3" y="326.3" font-size="27" text-anchor="end">1</text>
<text x="110.3" y="428.7" font-size="27" text-anchor="end">0.99</text>
<text x="110.3" y="531.1" font-size="27" text-anchor="end">0.98</text>
<text x="110.3" y="633.5" font-size="27" text-anchor="end">0.97</text>
<text x="126" y="660.5" font-size="27" text-anchor="middle">-2</text>
<text x="342" y="660.5" font-size="27" text-anchor="middle">-1.5</text>
<text x="557.9" y="660.5" font-size="27" text-anchor="middle">-1</text>
<text x="773.9" y="660.5" font-size="27" text-anchor="middle">-0.5</text>
<text x="993.4" y="660.5" font-size="27" text-anchor="middle">0</text>
<text x="558" y="703.9" font-size="27" text-anchor="middle">log[k/Mpc<tspan font-size="21" dy="-13.4">-1</tspan><tspan dy="13.4">]</tspan></text>
<text transform="translate(20.1 317.6) rotate(-90)" font-size="27" text-anchor="middle">P<tspan font-size="21" dy="8.2">emu</tspan><tspan dy="-8.2">(k)/P</tspan><tspan font-size="21" dy="8.2">true</tspan><tspan dy="-8.2">(k)</tspan></text>
</svg>
</body></html>
